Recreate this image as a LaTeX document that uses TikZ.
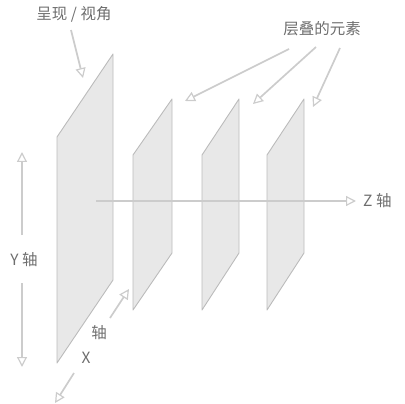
\documentclass[tikz,border=0pt]{standalone}
\usepackage{fontspec}
\setmainfont{Noto Sans CJK SC}
\usetikzlibrary{arrows.meta}
\definecolor{txt}{HTML}{6E6E6E}
\definecolor{ln}{HTML}{CCCCCC}
\definecolor{pfill}{HTML}{E8E8E8}
\definecolor{pline}{HTML}{BBBBBB}
\tikzset{
  plane/.style={fill=pfill, draw=pline, line width=0.9pt, line join=round},
  arr/.style={draw=ln, line width=1.7pt, -{Triangle[open, length=10pt, width=10pt, line width=1.2pt]}},
  lbl/.style={text=txt, font=\fontsize{15.5}{18}\selectfont, inner sep=0pt},
}
\begin{document}
\begin{tikzpicture}[x=1pt, y=-1pt]
\useasboundingbox (0,0) rectangle (405,404);
% planes
\draw[plane] (57,137) -- (113,54) -- (113,280) -- (57,363) -- cycle;
\draw[plane] (133,155) -- (172,99) -- (172,253) -- (133,310) -- cycle;
\draw[plane] (202,155) -- (239,99) -- (239,253) -- (202,310) -- cycle;
\draw[plane] (267,155) -- (304,99) -- (304,253) -- (267,310) -- cycle;
% labels
\node[lbl] (view) at (74,14) {呈现 / 视角};
\node[lbl] (layers) at (322,29) {层叠的元素};
\node[lbl, anchor=west] (zlab) at (363,201) {Z 轴};
\node[lbl] (ylab) at (24,260) {Y 轴};
\node[lbl] (xzhou) at (99,333) {轴};
\node[lbl] (xlab) at (86,358) {X};
% coordinates
\coordinate (vs) at (71,30);   \coordinate (ve) at (83,78);
\coordinate (l1s) at (289,49); \coordinate (l1e) at (185,101);
\coordinate (l2s) at (316,47); \coordinate (l2e) at (253,104);
\coordinate (l3s) at (340,48); \coordinate (l3e) at (313,107);
\coordinate (zs) at (96,201);  \coordinate (ze) at (356,201);
\coordinate (yus) at (22,235); \coordinate (yue) at (22,152);
\coordinate (yds) at (22,283); \coordinate (yde) at (22,367);
\coordinate (xus) at (110,318); \coordinate (xue) at (129,289);
\coordinate (xds) at (74,373); \coordinate (xde) at (55,403);
% arrows
\draw[arr] (vs) -- (ve);
\draw[arr] (l1s) -- (l1e);
\draw[arr] (l2s) -- (l2e);
\draw[arr] (l3s) -- (l3e);
\draw[arr] (zs) -- (ze);
\draw[arr] (yus) -- (yue);
\draw[arr] (yds) -- (yde);
\draw[arr] (xus) -- (xue);
\draw[arr] (xds) -- (xde);
\end{tikzpicture}
\end{document}
